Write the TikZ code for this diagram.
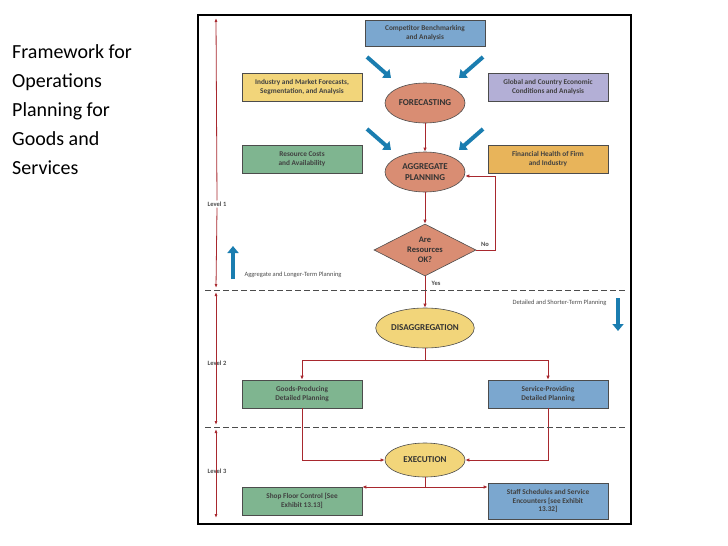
\documentclass[tikz,border=0pt]{standalone}
\usepackage{fontspec}
\setmainfont{Carlito}
\usetikzlibrary{shapes.geometric,arrows.meta}
\definecolor{cblue}{HTML}{7BA7CF}
\definecolor{cyel}{HTML}{F2D57A}
\definecolor{cpur}{HTML}{B3AFD6}
\definecolor{cgrn}{HTML}{7FB590}
\definecolor{cora}{HTML}{E8B45A}
\definecolor{csal}{HTML}{D98D73}
\definecolor{cred}{HTML}{A8282E}
\definecolor{carr}{HTML}{1A7DB0}
\begin{document}
\begin{tikzpicture}[x=1pt,y=-1pt,
 box/.style={draw=black!70,line width=0.6pt,minimum width=120pt,minimum height=28pt,align=center,font=\fontsize{7.3}{8.5}\selectfont\bfseries,text=black!75},
 ell/.style={ellipse,draw=black!70,line width=0.6pt,minimum width=80pt,minimum height=40pt,inner sep=1pt,align=center,font=\fontsize{9}{10.5}\selectfont\bfseries,text=black!80},
 flow/.style={cred,line width=0.9pt,-{Latex[length=4pt,width=3.5pt]}},
 big/.style={carr,line width=4pt,-{Triangle[length=7pt,width=11pt]}},
 lvl/.style={cred,line width=0.8pt,{Latex[length=4pt,width=3pt]}-{Latex[length=4pt,width=3pt]}},
 sepline/.style={black!70,line width=1pt,dash pattern=on 6pt off 3pt},
 small/.style={font=\fontsize{6.5}{7.5}\selectfont,text=black!70}]
\useasboundingbox (0,0) rectangle (728,546);
\node[anchor=north west,align=left,font=\fontsize{20}{29}\selectfont,inner sep=0] (title) at (12,44) {Framework for\\Operations\\Planning for\\Goods and\\Services};
\draw[line width=1.5pt] (198,15) rectangle (631,524);
\node[box,fill=cblue,minimum height=26pt] (comp) at (425,33) {Competitor Benchmarking\\and Analysis};
\node[box,fill=cyel] (ind) at (302,87) {Industry and Market Forecasts,\\Segmentation, and Analysis};
\node[box,fill=cpur] (glob) at (548,87) {Global and Country Economic\\Conditions and Analysis};
\node[ell,fill=csal] (fore) at (425,103) {FORECASTING};
\node[box,fill=cgrn] (res) at (302,159) {Resource Costs\\and Availability};
\node[box,fill=cora] (fin) at (548,159) {Financial Health of Firm\\and Industry};
\node[ell,fill=csal] (agg) at (425,172) {AGGREGATE\\PLANNING};
\node[diamond,draw=black!70,line width=0.6pt,fill=csal,minimum width=102pt,minimum height=52pt,inner sep=0,aspect=2,align=center,font=\fontsize{8.5}{10}\selectfont\bfseries,text=black!80] (dia) at (425,250) {Are\\Resources\\OK?};
\node[ell,fill=cyel,minimum width=94pt] (dis) at (425,328) {DISAGGREGATION};
\node[box,fill=cgrn] (goods) at (302,394) {Goods-Producing\\Detailed Planning};
\node[box,fill=cblue] (serv) at (548,394) {Service-Providing\\Detailed Planning};
\node[ell,fill=cyel,minimum height=34pt] (exe) at (425,460) {EXECUTION};
\node[box,fill=cgrn] (shop) at (302,501) {Shop Floor Control [See\\Exhibit 13.13]};
\node[box,fill=cblue,minimum height=36pt] (staff) at (548,501) {Staff Schedules and  Service\\Encounters [see Exhibit\\13.32]};
% flows
\draw[flow] (fore) -- (agg);
\draw[flow] (agg) -- (dia);
\draw[flow] (dia.east) -- (495,250) -- (495,176) -- (agg.east |- 0,176);
\node[small,font=\fontsize{6.5}{7.5}\selectfont\bfseries] (no) at (485,244) {No};
\draw[flow] (dia) -- (dis);
\node[small,font=\fontsize{6.5}{7.5}\selectfont\bfseries] (yes) at (436,283) {Yes};
\coordinate (sp) at (425,360);
\draw[cred,line width=0.9pt] (dis) -- (sp);
\draw[flow] (sp) -| (goods.north);
\draw[flow] (sp) -| (serv.north);
\draw[flow] (goods.south) |- (exe.west);
\draw[flow] (serv.south) |- (exe.east);
\coordinate (ex) at (425,487);
\draw[cred,line width=0.9pt] (exe) -- (ex);
\draw[flow] (ex) -- (shop.east |- ex);
\draw[flow] (ex) -- (staff.west |- ex);
% dashed
\draw[sepline] (205,290) -- (626,290);
\draw[sepline] (205,427) -- (626,427);
% blue arrows
\draw[big] (367,57) -- (391,78);
\draw[big] (483,57) -- (459,78);
\draw[big] (367,129) -- (391,150);
\draw[big] (483,129) -- (459,150);
\draw[big] (233,279) -- (233,246);
\draw[big] (618,298) -- (618,331);
\node[small,anchor=west] (agl) at (241,275) {Aggregate and Longer-Term Planning};
\node[small,anchor=east] (dsl) at (610,303) {Detailed and Shorter-Term Planning};
% levels
\node[small,font=\fontsize{6.5}{7.5}\selectfont\bfseries,fill=white,inner sep=1pt] (l1) at (217,204) {Level 1};
\node[small,font=\fontsize{6.5}{7.5}\selectfont\bfseries,fill=white,inner sep=1pt] (l2) at (217,363) {Level 2};
\node[small,font=\fontsize{6.5}{7.5}\selectfont\bfseries,fill=white,inner sep=1pt] (l3) at (217,471) {Level 3};
\draw[cred,line width=0.8pt,-{Latex[length=4pt,width=3pt]}] (l1.north) -- (216,18);
\draw[cred,line width=0.8pt,-{Latex[length=4pt,width=3pt]}] (l1.south) -- (216,288);
\draw[lvl] (216,292) -- (216,425);
\draw[lvl] (216,429) -- (216,518);
\end{tikzpicture}
\end{document}
